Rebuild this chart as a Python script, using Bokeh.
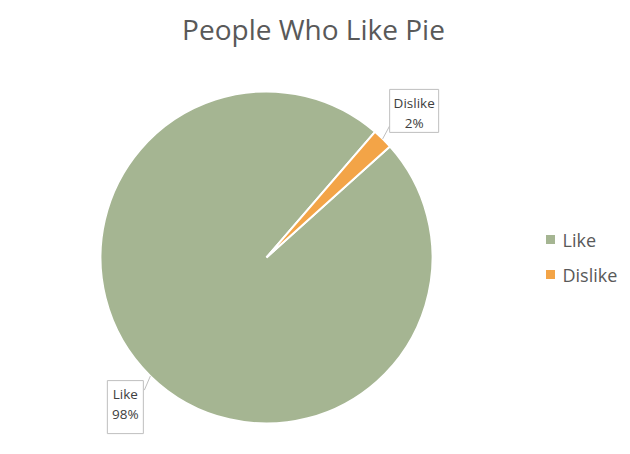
import numpy as np
from bokeh.plotting import figure
from bokeh.models import ColumnDataSource, Label
from bokeh.core.properties import value
from bokeh.embed import file_html
from bokeh.resources import INLINE

# ---- data ----
categories = ["Like", "Dislike"]
shares = [98, 2]
colors = ["#A5B592", "#F3A447"]
pct_labels = ["98%", "2%"]
title_text = "People Who Like Pie"

W, H = 630, 454
FONT = "Open Sans"

p = figure(width=W, height=H, x_range=(0, W), y_range=(0, H),
           output_backend="svg", toolbar_location=None, min_border=0)
p.axis.visible = False
p.grid.visible = False
p.outline_line_color = None
p.background_fill_color = "white"
p.border_fill_color = "white"

cx, cy, R = 266, 197, 166
first_slice_deg = 48  # clockwise from 12 o'clock

vals = np.array(shares, dtype=float)
fr = vals / vals.sum()
cum_end = np.cumsum(fr) * 360.0
cum_start = cum_end - fr * 360.0
ex_start = first_slice_deg + cum_start
ex_end = first_slice_deg + cum_end
b_start = np.deg2rad(90 - ex_end)
b_end = np.deg2rad(90 - ex_start)
mid = (b_start + b_end) / 2

src = ColumnDataSource(dict(start=b_start, end=b_end, color=colors, cat=categories))
p.wedge(x=cx, y=cy, radius=R, start_angle="start", end_angle="end",
        fill_color="color", line_color="white", line_width=2, source=src)

# data label boxes (offsets relative to slice mid point on the rim)
box_offsets = [(-25, -31), (31.5, 28)]
box_sizes = [(36, 53), (49, 43)]
leader_end = [(-6, -14), (7, 13)]
for i in range(len(categories)):
    rx = cx + R * np.cos(mid[i])
    ry = cy + R * np.sin(mid[i])
    bx, by = rx + box_offsets[i][0], ry + box_offsets[i][1]
    bw, bh = box_sizes[i]
    top = by + bh / 2
    p.segment(x0=[rx], y0=[ry], x1=[rx + leader_end[i][0]], y1=[ry + leader_end[i][1]],
              line_color="#BFBFBF", line_width=1)
    p.rect(x=[bx], y=[by], width=bw, height=bh, fill_color="white",
           line_color="#BFBFBF", line_width=1)
    p.text(x=[bx, bx], y=[top - 13.5, top - 33.5], text=[categories[i], pct_labels[i]],
           text_font=value(FONT), text_font_size="13.5px", text_color="#404040",
           text_align="center", text_baseline="middle")

# legend
lx = 550
sq_y = [215, 180]
txt_y = [214.5, 180]
for i in range(len(categories)):
    p.scatter(x=[lx], y=[sq_y[i]], marker="square", size=9,
              fill_color=colors[i], line_color=None)
    p.text(x=[lx + 12], y=[txt_y[i]], text=[categories[i]],
           text_font=value(FONT), text_font_size="18px", text_color="#595959",
           text_align="left", text_baseline="middle")

# title
p.add_layout(Label(x=313, y=425.5, text=title_text, text_font=FONT,
                   text_font_size="28px", text_color="#595959",
                   text_align="center", text_baseline="middle"))

open("out.html", "w").write(file_html(p, INLINE))
